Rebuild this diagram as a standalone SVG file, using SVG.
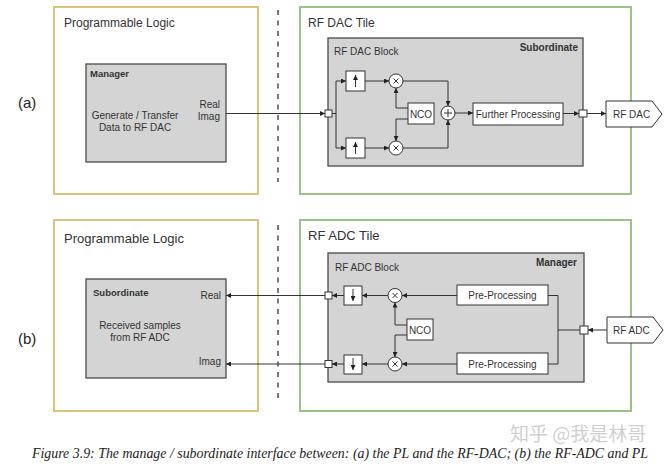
<svg xmlns="http://www.w3.org/2000/svg" width="670" height="464" viewBox="0 0 670 464">
<defs>
<marker id="ah" viewBox="0 0 10 10" refX="10" refY="5" markerWidth="5" markerHeight="5" orient="auto" markerUnits="userSpaceOnUse">
<path d="M0,0 L10,5 L0,10 Z" fill="#222"/>
</marker>
<style>
.pl{fill:#fff;stroke:#dcc37a;stroke-width:2}
.tile{fill:#fff;stroke:#98c487;stroke-width:2}
.blk{fill:#d4d4d4;stroke:#4a4a4a;stroke-width:1.3}
.wb{fill:#fff;stroke:#333;stroke-width:1}
.ln{fill:none;stroke:#333;stroke-width:1}
.ar{fill:none;stroke:#333;stroke-width:1;marker-end:url(#ah)}
.dash{stroke:#333;stroke-width:1.3;stroke-dasharray:5,5.5}
text{font-family:"Liberation Sans",Arial,sans-serif;fill:#333}
.t12{font-size:12px}
.t13{font-size:13px}
.t10{font-size:10px}
.t9{font-size:9.5px}
.b{font-weight:bold}
.lab{font-size:15px;fill:#222}
</style>
</defs>
<rect width="670" height="464" fill="#fff"/>

<!-- (a) -->
<text class="lab" x="18" y="108">(a)</text>
<line class="dash" x1="278" y1="10" x2="278" y2="182"/>
<g id="pl_a">
<rect class="pl" x="54" y="7" width="204" height="187"/>
<text class="t12" x="64" y="27">Programmable Logic</text>
</g>
<g id="manager_a">
<rect class="blk" x="86" y="64" width="140" height="98"/>
<text class="t9 b" x="90" y="77">Manager</text>
<text class="t10" x="135" y="119" text-anchor="middle">Generate / Transfer</text>
<text class="t10" x="135" y="131" text-anchor="middle">Data to RF DAC</text>
<text class="t10" x="220" y="108" text-anchor="end">Real</text>
<text class="t10" x="220" y="120" text-anchor="end">Imag</text>
</g>
<g id="tile_a">
<rect class="tile" x="300" y="7" width="331" height="187"/>
<text class="t12" x="308" y="27">RF DAC Tile</text>
</g>
<g id="dacblock">
<rect class="blk" x="328" y="38" width="255" height="128"/>
<text class="t10" x="334" y="55">RF DAC Block</text>
<text class="t10 b" x="578" y="51" text-anchor="end">Subordinate</text>
</g>
<g id="up_top"><rect class="wb" x="346" y="71" width="19" height="20"/><line class="ar" x1="355.5" y1="87" x2="355.5" y2="75"/></g>
<g id="up_bot"><rect class="wb" x="346" y="138" width="19" height="20"/><line class="ar" x1="355.5" y1="154" x2="355.5" y2="142"/></g>
<g id="mul_a_top"><circle class="wb" cx="396" cy="81" r="7"/><path class="ln" d="M393.5,78.5 L398.5,83.5 M398.5,78.5 L393.5,83.5"/></g>
<g id="mul_a_bot"><circle class="wb" cx="396" cy="148" r="7"/><path class="ln" d="M393.5,145.5 L398.5,150.5 M398.5,145.5 L393.5,150.5"/></g>
<g id="nco_a"><rect class="wb" x="408" y="103" width="26" height="21"/><text class="t10" x="421" y="117.5" text-anchor="middle">NCO</text></g>
<g id="add"><circle class="wb" cx="448" cy="113" r="7"/><path class="ln" d="M448,109 V117 M444,113 H452"/></g>
<g id="fp"><rect class="wb" x="473" y="103" width="90" height="22"/><text class="t10" x="518" y="117.5" text-anchor="middle">Further Processing</text></g>
<g id="port_a_in"><rect class="wb" x="325" y="110" width="7" height="7"/></g>
<g id="port_a_out"><rect class="wb" x="579" y="110" width="8" height="7"/></g>
<g id="rfdac"><path class="wb" d="M606,101 H652 L662,114 L652,127 H606 Z"/><text class="t10" x="613" y="118">RF DAC</text></g>

<!-- (b) -->
<text class="lab" x="18" y="344">(b)</text>
<line class="dash" x1="278" y1="225" x2="278" y2="398"/>
<g id="pl_b">
<rect class="pl" x="54" y="220" width="204" height="191"/>
<text class="t13" x="64" y="243">Programmable Logic</text>
</g>
<g id="sub_b">
<rect class="blk" x="86" y="279" width="140" height="99"/>
<text class="t9 b" x="93" y="296">Subordinate</text>
<text class="t10" x="221" y="299" text-anchor="end">Real</text>
<text class="t10" x="140" y="329" text-anchor="middle">Received samples</text>
<text class="t10" x="140" y="341" text-anchor="middle">from RF ADC</text>
<text class="t10" x="221" y="365" text-anchor="end">Imag</text>
</g>
<g id="tile_b">
<rect class="tile" x="300" y="220" width="331" height="191"/>
<text class="t13" x="308" y="240">RF ADC Tile</text>
</g>
<g id="adcblock">
<rect class="blk" x="328" y="253" width="256" height="129"/>
<text class="t10" x="335" y="271">RF ADC Block</text>
<text class="t10 b" x="577" y="266" text-anchor="end">Manager</text>
</g>
<g id="dn_top"><rect class="wb" x="344" y="286" width="18" height="19"/><line class="ar" x1="353" y1="289" x2="353" y2="301"/></g>
<g id="dn_bot"><rect class="wb" x="344" y="355" width="18" height="19"/><line class="ar" x1="353" y1="358" x2="353" y2="370"/></g>
<g id="mul_b_top"><circle class="wb" cx="395" cy="295.5" r="7"/><path class="ln" d="M392.5,293 L397.5,298 M397.5,293 L392.5,298"/></g>
<g id="mul_b_bot"><circle class="wb" cx="395" cy="364" r="7"/><path class="ln" d="M392.5,361.5 L397.5,366.5 M397.5,361.5 L392.5,366.5"/></g>
<g id="nco_b"><rect class="wb" x="407" y="319" width="26" height="21"/><text class="t10" x="420" y="333.5" text-anchor="middle">NCO</text></g>
<g id="pre_top"><rect class="wb" x="457" y="285" width="91" height="20"/><text class="t10" x="502.5" y="299" text-anchor="middle">Pre-Processing</text></g>
<g id="pre_bot"><rect class="wb" x="457" y="353" width="91" height="21"/><text class="t10" x="502.5" y="367.5" text-anchor="middle">Pre-Processing</text></g>
<g id="port_b_top"><rect class="wb" x="325" y="292" width="7" height="7"/></g>
<g id="port_b_bot"><rect class="wb" x="325" y="360.5" width="7" height="7"/></g>
<g id="port_b_in"><rect class="wb" x="580" y="326" width="8" height="8"/></g>
<g id="rfadc"><path class="wb" d="M607,317 H653 L663,330 L653,343 H607 Z"/><text class="t10" x="613" y="334">RF ADC</text></g>

<g id="connectors">
<!-- (a) -->
<line class="ar" x1="226" y1="113.5" x2="325" y2="113.5"/>
<path class="ln" d="M332,113.5 H336 M336,81 V148"/>
<path class="ar" d="M336,81 H346"/>
<path class="ar" d="M336,148 H346"/>
<path class="ar" d="M365,81 H389"/>
<path class="ar" d="M365,148 H389"/>
<path class="ar" d="M403,81 H448 V106"/>
<path class="ar" d="M403,148 H448 V120"/>
<path class="ar" d="M408,108 H396 V88"/>
<path class="ar" d="M408,119 H396 V141"/>
<path class="ar" d="M455,113 H473"/>
<path class="ar" d="M563,113.5 H579"/>
<path class="ar" d="M587,113.5 H606"/>
<!-- (b) -->
<path class="ln" d="M548,295.5 H558 V364 H548 M580,330 H558"/>
<path class="ar" d="M607,330 H588"/>
<path class="ar" d="M457,295.5 H402"/>
<path class="ar" d="M457,364 H402"/>
<path class="ar" d="M388,295.5 H362"/>
<path class="ar" d="M388,364 H362"/>
<path class="ar" d="M344,295.5 H332"/>
<path class="ar" d="M344,364 H332"/>
<path class="ar" d="M325,295.5 H226"/>
<path class="ar" d="M325,364 H226"/>
<path class="ar" d="M407,325 H395 V302.5"/>
<path class="ar" d="M407,335 H395 V357"/>
</g>

<text x="510" y="441" style="font-family:'Noto Sans CJK SC',sans-serif;font-size:19px;fill:#cfcfcf">知乎 @我是林哥</text>
<text x="32" y="458" textLength="616" lengthAdjust="spacingAndGlyphs" style="font-family:'Liberation Serif','Times New Roman',serif;font-style:italic;font-size:14px;fill:#222">Figure 3.9:  The manage / subordinate interface between: (a) the PL and the RF-DAC; (b) the RF-ADC and PL</text>
</svg>
